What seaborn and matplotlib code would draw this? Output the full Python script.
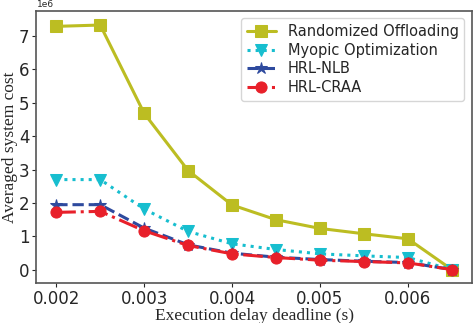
import matplotlib
matplotlib.use("Agg")
import matplotlib.pyplot as plt
import seaborn as sns
import pandas as pd

deadlines = [0.002, 0.0025, 0.003, 0.0035, 0.004, 0.0045, 0.005, 0.0055, 0.006, 0.0065]
randomized = [7.28e6, 7.32e6, 4.68e6, 2.97e6, 1.94e6, 1.50e6, 1.24e6, 1.08e6, 0.93e6, 0.01e6]
myopic = [2.70e6, 2.70e6, 1.82e6, 1.15e6, 0.78e6, 0.61e6, 0.48e6, 0.42e6, 0.37e6, 0.01e6]
hrl_nlb = [1.95e6, 1.95e6, 1.25e6, 0.75e6, 0.50e6, 0.38e6, 0.31e6, 0.26e6, 0.22e6, 0.01e6]
hrl_craa = [1.72e6, 1.75e6, 1.17e6, 0.73e6, 0.48e6, 0.37e6, 0.29e6, 0.25e6, 0.21e6, 0.01e6]

series = [
    ("Randomized Offloading", randomized, "#bcbd22", "-", "s", 8),
    ("Myopic Optimization", myopic, "#17becf", ":", "v", 8),
    ("HRL-NLB", hrl_nlb, "#2e4a9e", "--", "*", 9),
    ("HRL-CRAA", hrl_craa, "#e8202a", "-.", "o", 8),
]

sns.set_style("ticks")
fig, ax = plt.subplots(figsize=(4.74, 3.23), dpi=100)

for name, vals, color, ls, mk, ms in series:
    df = pd.DataFrame({"deadline": deadlines, "cost": vals})
    sns.lineplot(data=df, x="deadline", y="cost", ax=ax, color=color,
                 linestyle=ls, marker=mk, markersize=ms, linewidth=2.2,
                 markeredgecolor=color, label=name)

ax.set_xticks([0.002, 0.003, 0.004, 0.005, 0.006])
ax.set_xticklabels(["0.002", "0.003", "0.004", "0.005", "0.006"])
ax.set_yticks([0, 1e6, 2e6, 3e6, 4e6, 5e6, 6e6, 7e6])
ax.tick_params(labelsize=12, length=3, pad=2)
ax.ticklabel_format(axis="y", style="sci", scilimits=(6, 6))
ax.yaxis.get_offset_text().set_fontsize(6.5)
ax.set_ylim(-0.38e6, 7.74e6)

ax.set_xlabel("Execution delay deadline (s)", family="Liberation Serif", fontsize=12.5, labelpad=0)
ax.set_ylabel("Averaged system cost", family="Liberation Serif", fontsize=12.5, labelpad=1)

for sp in ax.spines.values():
    sp.set_color("#555555")
    sp.set_linewidth(1.2)

leg = ax.legend(loc="upper right", fontsize=10.5, handlelength=2.0, borderpad=0.4,
                labelspacing=0.25, frameon=True)
leg.get_frame().set_edgecolor("#cccccc")

fig.subplots_adjust(left=0.077, right=0.995, top=0.966, bottom=0.125)
fig.savefig("out.png", dpi=100)
